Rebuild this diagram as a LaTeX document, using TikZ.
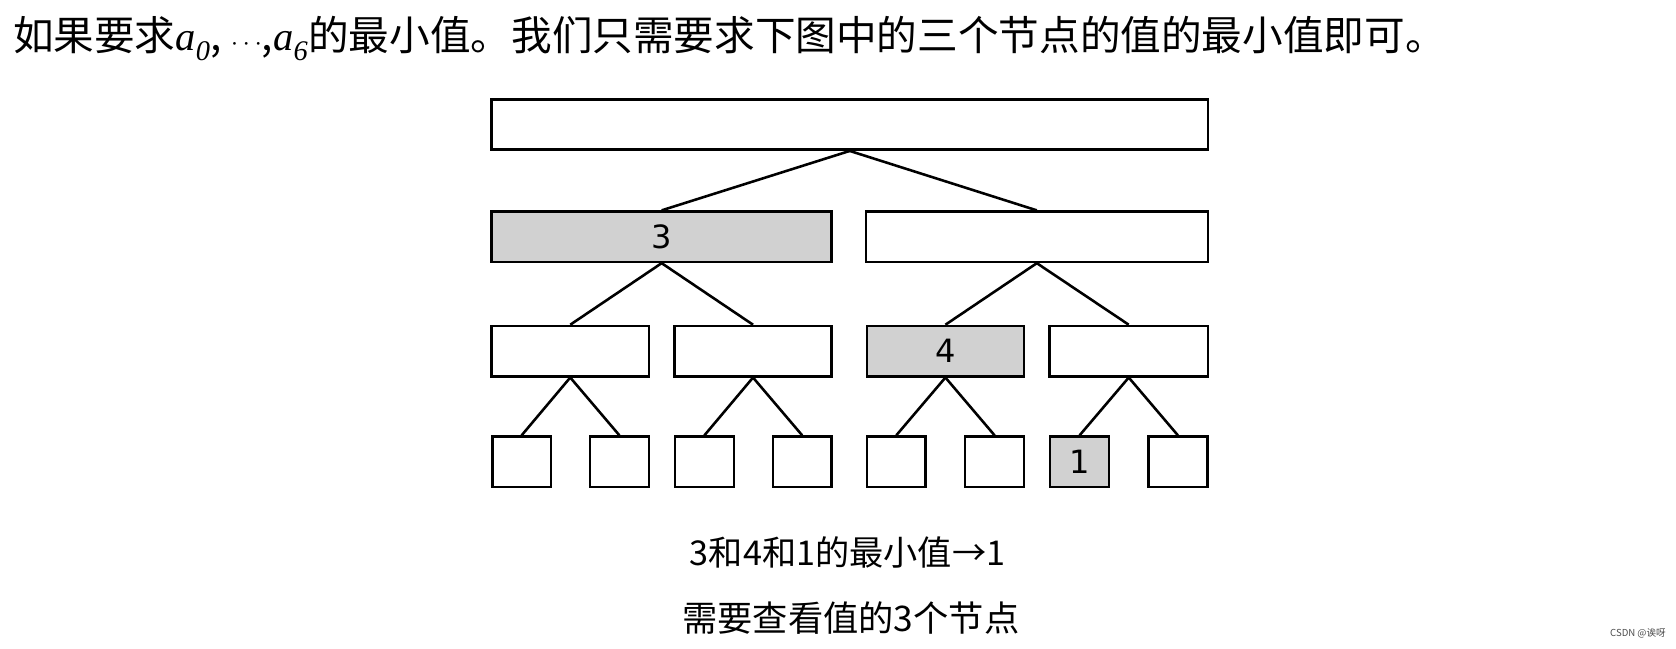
\documentclass[tikz,border=0pt]{standalone}
\usepackage{fontspec}
\setmainfont{Liberation Serif}
\newfontfamily\cjk{Noto Sans CJK SC}
\newfontfamily\numfont{DejaVu Sans}
\usetikzlibrary{positioning}
\tikzset{
  treebox/.style={draw,line width=2.4pt,inner sep=0pt,minimum height=47pt,font=\numfont\fontsize{30}{30}\selectfont},
  leafbox/.style={treebox,minimum width=55pt},
  markbox/.style={fill=black!18},
  treeedge/.style={line width=2.4pt},
}
\begin{document}
\begin{tikzpicture}[x=1pt,y=-1pt]
  \useasboundingbox (0,0) rectangle (1568,607);
  % heading
  \node[anchor=west,inner sep=0pt,font=\cjk\fontsize{38}{38}\selectfont] (head) at (12,36)
    {如果要求{\rmfamily\itshape a\textsubscript{0}}, {\rmfamily $\cdots$},{\rmfamily\itshape a\textsubscript{6}}的最小值。我们只需要求下图中的三个节点的值的最小值即可。};

  % root
  \node[treebox,minimum width=670pt] (r) at (795,116.5) {};
  % level 2
  \node[treebox,markbox,minimum width=318pt] (l) at (619,221.5) {3};
  \node[treebox,minimum width=320pt] (rr) at (970,221.5) {};
  \draw[treeedge] (r.south) -- (l.north);
  \draw[treeedge] (r.south) -- (rr.north);
  % level 3
  \node[treebox,minimum width=147pt] (ll) at (533.5,328.5) {};
  \node[treebox,minimum width=147pt] (lr) at (704.5,328.5) {};
  \node[treebox,markbox,minimum width=147pt] (rl) at (884.5,328.5) {4};
  \node[treebox,minimum width=148pt] (rrr) at (1056,328.5) {};
  \foreach \p/\c in {l/ll,l/lr,rr/rl,rr/rrr}
    \draw[treeedge] (\p.south) -- (\c.north);
  % leaves
  \foreach \n/\x in {a/488,b/579.5,c/659,d/750.5,e/838.5,f/930.5,h/1102}
    \node[leafbox] (\n) at (\x,432) {};
  \node[leafbox,markbox] (g) at (1010,432) {1};
  \foreach \p/\c in {ll/a,ll/b,lr/c,lr/d,rl/e,rl/f,rrr/g,rrr/h}
    \draw[treeedge] (\p.south) -- (\c.north);

  % captions
  \node[font=\cjk\fontsize{32}{32}\selectfont] (cap1) at (793,517) {3和4和1的最小值→1};
  \node[font=\cjk\fontsize{33}{33}\selectfont] (cap2) at (796,578) {需要查看值的3个节点};
  \node[anchor=east,font=\cjk\fontsize{9}{9}\selectfont,text=black!70] (mark) at (1562,592) {CSDN @诶呀};
\end{tikzpicture}
\end{document}
